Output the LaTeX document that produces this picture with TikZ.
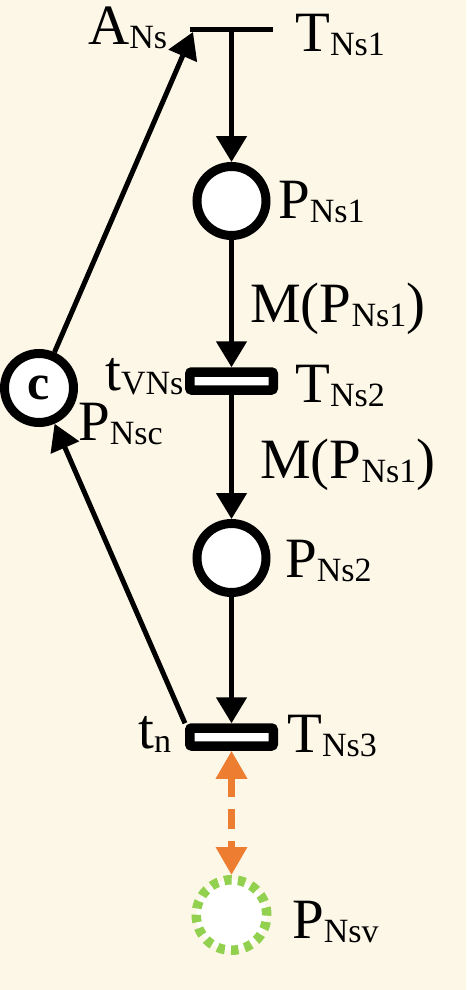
\documentclass[tikz,border=0pt]{standalone}
\usepackage{fontspec}
\setmainfont{LiberationSerif}[Extension=.ttf,UprightFont=*-Regular,BoldFont=*-Bold]
\usetikzlibrary{arrows.meta}
\definecolor{bg}{RGB}{253,247,232}
\definecolor{org}{RGB}{237,125,49}
\definecolor{grn}{RGB}{146,208,80}
\newcommand\sublbl[2]{#1\raisebox{-4pt}{\fontsize{34}{34}\selectfont #2}}
\begin{document}
\begin{tikzpicture}[x=1pt,y=-1pt,
  place/.style={circle,draw=black,fill=white,line width=9pt,minimum size=69pt,inner sep=0pt},
  vplace/.style={circle,draw=grn,fill=white,line width=9.5pt,minimum size=70.5pt,inner sep=0pt,dash pattern=on 7.5pt off 6.3pt},
  trans/.style={rectangle,draw=black,fill=white,line width=9.5pt,minimum width=83.5pt,minimum height=18pt,inner sep=0pt,rounded corners=2pt},
  bar/.style={rectangle,fill=black,minimum width=83pt,minimum height=5pt,inner sep=0pt,outer sep=0pt},
  lbl/.style={anchor=base west,inner sep=0pt,font=\fontsize{57}{60}\selectfont},
  arc/.style={line width=5pt,-{Triangle[width=30pt,length=26pt]}},
  varc/.style={line width=6.5pt,org,dash pattern=on 20pt off 12pt,{Triangle[width=30pt,length=28pt]}-{Triangle[width=30pt,length=28pt]}}]
\fill[bg] (0,0) rectangle (466,990);
\useasboundingbox (0,0) rectangle (466,990);
% nodes
\node[bar] (T1) at (231.5,29.5) {};
\coordinate (aNs) at (193,32);
\node[place] (P1) at (231.5,201) {};
\node[trans] (T2) at (231.5,381) {};
\node[place] (P2) at (231.5,558) {};
\node[trans] (T3) at (231.5,737) {};
\node[place,font=\fontsize{50}{50}\selectfont\bfseries] (PC) at (39,388) {c};
\node[vplace] (PV) at (231.5,915) {};
% labels
\node[lbl] (lA) at (88,45) {\sublbl{A}{Ns}};
\node[lbl] (lT1) at (295,52) {\sublbl{T}{Ns1}};
\node[lbl] (lP1) at (278,218) {\sublbl{P}{Ns1}};
\node[lbl] (lM1) at (250,322) {M(\sublbl{P}{Ns1})};
\node[lbl] (ltv) at (105,390) {\sublbl{t}{VNs}};
\node[lbl] (lT2) at (295,402) {\sublbl{T}{Ns2}};
\node[lbl] (lPC) at (78,440) {\sublbl{P}{Nsc}};
\node[lbl] (lM2) at (260,478) {M(\sublbl{P}{Ns1})};
\node[lbl] (lP2) at (285,577) {\sublbl{P}{Ns2}};
\node[lbl] (ltn) at (138,748) {\sublbl{t}{n}};
\node[lbl] (lT3) at (287,752) {\sublbl{T}{Ns3}};
\node[lbl] (lPV) at (292,938) {\sublbl{P}{Nsv}};
% arcs
\draw[arc] (T1) -- (P1);
\draw[arc] (P1) -- (T2);
\draw[arc] (T2) -- (P2);
\draw[arc] (P2) -- (T3);
\draw[arc] (T3.north west) -- (PC);
\draw[arc] (PC) -- (aNs);
\draw[varc] (T3) -- (PV);
\end{tikzpicture}
\end{document}
